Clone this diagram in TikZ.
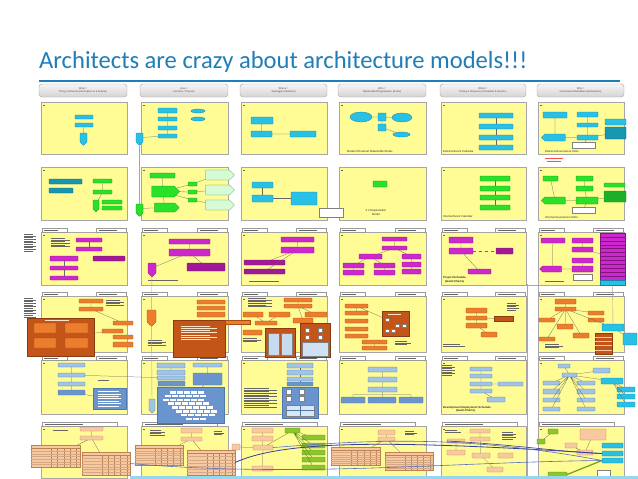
\documentclass[tikz,border=0pt]{standalone}
\usepackage{fontspec}
\newfontfamily\titlefont{Carlito}
\newfontfamily\smallfont{Liberation Sans}
\usetikzlibrary{shapes.geometric,shapes.symbols}
\definecolor{ttl}{RGB}{31,125,183}
\definecolor{pnl}{RGB}{255,252,150}
\definecolor{ccy}{RGB}{40,192,228}
\definecolor{ccyd}{RGB}{20,130,170}
\definecolor{ctc}{RGB}{25,150,175}
\definecolor{cgr}{RGB}{40,225,40}
\definecolor{cgrd}{RGB}{20,140,20}
\definecolor{clg}{RGB}{215,250,215}
\definecolor{cdg}{RGB}{30,175,40}
\definecolor{cmg}{RGB}{205,40,205}
\definecolor{cmgd}{RGB}{130,20,130}
\definecolor{cdm}{RGB}{160,25,150}
\definecolor{cor}{RGB}{235,125,45}
\definecolor{cord}{RGB}{170,75,20}
\definecolor{cbr}{RGB}{195,85,25}
\definecolor{clb}{RGB}{160,195,230}
\definecolor{clbd}{RGB}{80,120,170}
\definecolor{csb}{RGB}{105,148,205}
\definecolor{cpc}{RGB}{248,200,160}
\definecolor{cpcd}{RGB}{190,130,80}
\definecolor{col}{RGB}{140,198,45}
\definecolor{cold}{RGB}{90,130,20}
\definecolor{cnv}{RGB}{55,60,150}
\definecolor{cbl}{RGB}{90,110,190}
\definecolor{cbot}{RGB}{150,215,240}
\newcommand{\bxn}[6]{\node[#2,minimum width={((#5)-(#3))*1pt},minimum height={((#6)-(#4))*1pt}] (#1) at ({((#3)+(#5))/2},{((#4)+(#6))/2}) {};}
\newcommand{\txl}[4]{\foreach \k in {1,...,#4}{\draw[black!60,line width=0.3pt] (#1,{(#2)+(\k-1)*1.7}) -- ({(#1)+(#3)*(1-0.25*mod(\k,2))},{(#2)+(\k-1)*1.7});}}
\newcommand{\wtl}[4]{\foreach \k in {1,...,#4}{\draw[white!80!orange,line width=0.3pt] (#1,{(#2)+(\k-1)*2.2}) -- ({(#1)+(#3)*(1-0.2*mod(\k,2))},{(#2)+(\k-1)*2.2});}}
\newcommand{\tbl}[5]{\bxn{#1}{bxpc,rounded corners=0pt}{#2}{#3}{#4}{#5}
\draw[cpcd,line width=0.25pt] (#2,{(#3)+3.5}) -- (#4,{(#3)+3.5});
\foreach \k in {1,...,5}{\draw[cpcd,line width=0.2pt] ({(#2)+((#4)-(#2))*(0.28+0.13*\k)},{(#3)+3.5}) -- ({(#2)+((#4)-(#2))*(0.28+0.13*\k)},#5);}
\foreach \k in {1,...,6}{\draw[cpcd!70,line width=0.2pt] (#2,{(#3)+3.5+((#5)-(#3)-3.5)*\k/7}) -- (#4,{(#3)+3.5+((#5)-(#3)-3.5)*\k/7});}}
\newcommand{\hd}[5]{\bxn{#1}{hdr}{#2}{84}{#3}{97}\node[font=\smallfont\fontsize{2.6}{3.2}\selectfont,align=center,inner sep=0pt,text=black!70] (#1t) at ({((#2)+(#3))/2},90.5) {#4\\#5};}
\newcommand{\lbl}[5][west]{\node[anchor=#1,inner sep=0pt,font=\smallfont\fontsize{2.8}{3.3}\selectfont,text=black!85,align=center] (#2) at (#3,#4) {#5};}
\begin{document}
\begin{tikzpicture}[x=1pt,y=-1pt,
 bx/.style={draw,inner sep=0pt,outer sep=0pt,line width=0.3pt,rounded corners=0.5pt},
 bxcy/.style={bx,fill=ccy,draw=ccyd},
 bxtc/.style={bx,fill=ctc,draw=ccyd!70!black},
 bxgr/.style={bx,fill=cgr,draw=cgrd},
 bxdg/.style={bx,fill=cdg,draw=cgrd},
 bxlg/.style={bx,fill=clg,draw=cgrd!80},
 bxmg/.style={bx,fill=cmg,draw=cmgd},
 bxdm/.style={bx,fill=cdm,draw=cmgd},
 bxor/.style={bx,fill=cor,draw=cord},
 bxbr/.style={bx,fill=cbr,draw=cord!80!black,rounded corners=0pt},
 bxlb/.style={bx,fill=clb,draw=clbd},
 bxsb/.style={bx,fill=csb,draw=clbd},
 bxpc/.style={bx,fill=cpc,draw=cpcd},
 bxol/.style={bx,fill=col,draw=cold},
 bxwh/.style={bx,fill=white,draw=black!50,rounded corners=0pt},
 sgs/.style={signal,signal to=south},
 sge/.style={signal,signal to=east},
 sgw/.style={signal,signal to=west},
 pnlst/.style={draw=black!35,fill=pnl,line width=0.4pt,inner sep=0pt,outer sep=0pt},
 hdr/.style={bx,rounded corners=3pt,draw=black!35,top color=black!4,bottom color=black!17,line width=0.4pt},
 tabst/.style={draw=black!40,fill=white,line width=0.3pt,inner sep=0pt,outer sep=0pt},
 cn/.style={draw=black!60,line width=0.25pt},
 gl/.style={draw=black!35,line width=0.4pt}]
\useasboundingbox (0,0) rectangle (638,479);
\fill[white] (0,0) rectangle (638,479);
% title
\node[anchor=base west,inner sep=0pt,text=ttl,font=\titlefont\fontsize{24.6}{28}\selectfont] (title) at (39,68) {Architects are crazy about architecture models!!!};
\coordinate (L1) at (39,81); \coordinate (L2) at (620,81);
\draw[ttl,line width=1.6pt] (L1) -- (L2);
% headers
\hd{hA}{39}{127}{What =}{Thing of Interest (Information is a Subset)}
\hd{hB}{140}{228}{How =}{Function / Process}
\hd{hC}{240}{327}{Where =}{Topologies (Network)}
\hd{hD}{338}{426}{Who =}{Stakeholder/Organization (Roles)}
\hd{hE}{440}{526}{When =}{Timing \& Sequence (Schedule \& Events )}
\hd{hF}{537}{624}{Why =}{Governance/Mandates (Motivations)}
% panels
\foreach \xa/\xb [count=\ci] in {41/127,141/228,241/327,339/426,441/526,538/624}{
 \foreach \ya/\yb [count=\ri] in {102/154,167/220,232/285,296/352,360/414,426/478}{
  \bxn{p\ri\ci}{pnlst}{\xa}{\ya}{\xb}{\yb}
  \txl{\xa+2}{\ya+3}{3}{1}
  \ifnum\ri>2
   \ifnum\ri=6
    \bxn{tl\ri\ci}{tabst}{\xa+1}{\ya-3.5}{\xa+76}{\ya+0.5}
    \txl{\xa+4}{\ya-1.5}{50}{1}
   \else
    \bxn{tl\ri\ci}{tabst}{\xa+1}{\ya-3.5}{\xa+26}{\ya+0.5}
    \bxn{tr\ri\ci}{tabst}{\xb-31}{\ya-3.5}{\xb-1}{\ya+0.5}
    \txl{\xa+3}{\ya-1.5}{18}{1}
    \txl{\xb-28}{\ya-1.5}{24}{1}
   \fi
  \fi
 }}
% gray long connectors between panels
\coordinate (v1a) at (527,284); \coordinate (v1b) at (527,479);
\coordinate (v2a) at (538,285); \coordinate (v2b) at (538,479);
\coordinate (h1a) at (527,285); \coordinate (h1b) at (600,285);
\draw[gl] (v1a) -- (v1b) (v2a) -- (v2b) (h1a) -- (h1b);
% ---------- Row 1 ----------
\bxn{a1}{bxcy}{75}{115}{93}{119}
\bxn{a2}{bxcy}{75}{123}{93}{127}
\bxn{a3}{bxcy,sgs}{80}{133}{87}{142}
\draw[cn] (a2) -- (a3);
\bxn{b1}{bxcy}{158}{108}{177}{113}
\bxn{b2}{bxcy}{158}{117}{177}{121}
\bxn{b3}{bxcy}{158}{126}{177}{130}
\bxn{b4}{bxcy}{158}{134}{177}{138}
\bxn{b5}{bxcy,ellipse}{191}{109}{205}{113}
\bxn{b6}{bxcy,ellipse}{191}{117}{205}{121}
\bxn{b7}{bxcy,sgs}{136}{133}{143}{142}
\draw[cn] (b1)--(b2) (b2)--(b3) (b3)--(b4) (b7)--(b4);
\bxn{c1}{bxcy}{251}{117}{273}{124}
\bxn{c2}{bxcy}{251}{131}{272}{137}
\bxn{c3}{bxcy}{290}{131}{316}{137}
\draw[cn] (c1)--(c2) (c2)--(c3);
\bxn{d1}{bxcy,ellipse}{350}{112}{372}{122}
\bxn{d2}{bxcy}{378}{113}{386}{121}
\bxn{d3}{bxcy}{378}{124}{386}{131}
\bxn{d4}{bxcy,ellipse}{392}{113}{412}{122}
\bxn{d5}{bxcy,ellipse}{393}{132}{410}{137}
\draw[cn] (d1)--(d2) (d2)--(d4) (d2)--(d3) (d3)--(d5);
\lbl{d6}{347}{151}{Model of External Stakeholder Roles}
\bxn{f1}{bxcy}{479}{113}{513}{118}
\bxn{f2}{bxcy}{479}{124}{513}{129}
\bxn{f3}{bxcy}{479}{135}{513}{140}
\bxn{f4}{bxcy}{479}{145}{513}{150}
\draw[cn] (f1)--(f2) (f2)--(f3) (f3)--(f4);
\lbl{f5}{443}{151}{External Event Calendar}
\bxn{g1}{bxcy}{543}{112}{567}{118}
\bxn{g2}{bxcy}{577}{112}{598}{117}
\bxn{g3}{bxcy}{577}{123}{598}{127}
\bxn{g4}{bxcy,sgw}{543}{134}{567}{141}
\bxn{g5}{bxcy}{577}{135}{598}{140}
\bxn{g6}{bxcy}{605}{119}{626}{125}
\bxn{g7}{bxtc}{605}{127}{626}{139}
\bxn{g8}{bxwh}{572}{142}{595}{148}
\draw[cn] (g1)--(g4) (g4)--(g5) (g2)--(g3) (g3)--(g5) (g5)--(g7) (g5)--(g8);
\lbl{g9}{545}{151}{External Governance Hints}
\draw[red!70,line width=0.35pt] (545,158)--(563,158) (547,161.5)--(561,161.5);
% ---------- Row 2 ----------
\bxn{h1}{bxtc}{49}{179}{82}{184}
\bxn{h2}{bxtc}{49}{188}{73}{193}
\bxn{h3}{bxgr}{93}{179}{112}{183}
\bxn{h4}{bxgr}{93}{190}{112}{194}
\bxn{h5}{bxgr,sgs}{93}{200}{99}{209}
\bxn{h6}{bxgr}{102}{200}{122}{204}
\bxn{h7}{bxgr}{102}{206}{122}{210}
\draw[cn] (h3)--(h4) (h4)--(h5);
\bxn{i1}{bxgr}{150}{173}{175}{178}
\bxn{i2}{bxgr,sge}{149}{186}{177}{197}
\bxn{i3}{bxgr,sge}{152}{203}{177}{212}
\bxn{i4}{bxgr,sgs}{136}{204}{143}{213}
\bxn{i5}{bxgr}{188}{182}{197}{186}
\bxn{i6}{bxgr}{188}{190}{197}{194}
\bxn{i7}{bxgr}{188}{198}{197}{202}
\bxn{i8}{bxlg,sge}{203}{170}{232}{180}
\bxn{i9}{bxlg,sge}{203}{185}{232}{195}
\bxn{i10}{bxlg,sge}{203}{200}{232}{210}
\draw[cn] (i1)--(i2) (i2)--(i3) (i4)--(i3) (i2)--(i5) (i2)--(i6) (i2)--(i7) (i5)--(i8) (i6)--(i9) (i7)--(i10);
\draw[gl] (b7)--(i4);
\bxn{j1}{bxcy}{252}{182}{273}{188}
\bxn{j2}{bxcy}{252}{195}{273}{202}
\bxn{j3}{bxcy}{291}{192}{317}{205}
\bxn{j4}{bxwh}{319}{208}{343}{217}
\draw[cn] (j1)--(j2) (j2)--(j3);
\bxn{k1}{bxgr}{373}{181}{387}{187}
\lbl[center]{k2}{376}{212.5}{4.4 Organization\\Model}
\bxn{l1}{bxgr}{480}{176}{510}{181}
\bxn{l2}{bxgr}{480}{186}{510}{191}
\bxn{l3}{bxgr}{480}{195}{510}{200}
\bxn{l4}{bxgr}{480}{205}{510}{210}
\draw[cn] (l1)--(l2) (l2)--(l3) (l3)--(l4);
\lbl{l5}{443}{216}{Internal Event Calendar}
\bxn{m1}{bxgr}{543}{176}{558}{181}
\bxn{m2}{bxgr}{576}{176}{593}{181}
\bxn{m3}{bxgr}{576}{186}{593}{191}
\bxn{m4}{bxgr,sgw}{543}{197}{567}{204}
\bxn{m5}{bxgr}{576}{197}{598}{204}
\bxn{m6}{bxgr}{604}{183}{625}{187}
\bxn{m7}{bxdg}{604}{191}{626}{202}
\bxn{m8}{bxwh}{572}{207}{595}{213}
\draw[cn] (m1)--(m4) (m4)--(m5) (m2)--(m3) (m3)--(m5) (m5)--(m7) (m5)--(m8);
\lbl{m9}{545}{217}{Internal Governance Hints}
% ---------- Row 3 ----------
\txl{24}{234}{12}{11}
\txl{51}{238}{19}{6}
\bxn{n1}{bxmg}{76}{238}{102}{242}
\bxn{n2}{bxmg}{76}{247}{102}{251}
\bxn{n3}{bxmg}{50}{256}{78}{261}
\bxn{n4}{bxmg}{50}{266}{78}{270}
\bxn{n5}{bxmg}{50}{276}{78}{280}
\bxn{n6}{bxdm}{93}{256}{125}{261}
\draw[cn] (n1)--(n2) (n3)--(n4) (n4)--(n5);
\bxn{o1}{bxmg}{169}{239}{210}{244}
\bxn{o2}{bxmg}{169}{249}{210}{256}
\bxn{o3}{bxdm}{187}{263}{225}{271}
\bxn{o4}{bxmg,sgs}{148}{263}{156}{273}
\draw[cn] (o1)--(o2) (o2)--(o4) (o2)--(o3);
\txl{148}{280}{40}{1}
\bxn{q1}{bxmg}{281}{237}{314}{242}
\bxn{q2}{bxmg}{281}{247}{314}{253}
\bxn{q3}{bxdm}{244}{260}{285}{265}
\bxn{q4}{bxdm}{244}{269}{285}{274}
\draw[cn] (q1)--(q2) (q2)--(q3) (q2)--(q4);
\txl{249}{281}{40}{1}
\bxn{r1}{bxmg}{382}{237}{407}{241}
\bxn{r2}{bxmg}{382}{246}{407}{250}
\bxn{r3}{bxmg}{359}{254}{382}{259}
\bxn{r4}{bxmg}{402}{254}{421}{259}
\bxn{r5}{bxmg}{343}{263}{364}{268}
\bxn{r6}{bxmg}{343}{270}{364}{275}
\bxn{r7}{bxmg}{374}{263}{395}{268}
\bxn{r8}{bxmg}{374}{270}{395}{275}
\bxn{r9}{bxmg}{402}{262}{421}{267}
\bxn{r10}{bxmg}{402}{269}{421}{274}
\draw[cn] (r1)--(r2) (r2)--(r3) (r2)--(r4) (r3)--(r5) (r3)--(r7) (r5)--(r6) (r7)--(r8) (r4)--(r9) (r9)--(r10);
\bxn{t1}{bxmg}{449}{237}{473}{243}
\bxn{t2}{bxmg}{449}{248}{473}{254}
\bxn{t3}{bxdm}{496}{248}{513}{254}
\bxn{t4}{bxmg}{468}{269}{491}{274}
\draw[cn] (t1)--(t2) (t2)--(t4);
\draw[cn,dashed] (t2)--(t3);
\lbl[west]{t5}{443}{278}{\bfseries Project Schedule}
\lbl[west]{t6}{445}{281.5}{\bfseries (Gantt Charts)}
\bxn{u1}{bxmg}{541}{238}{565}{243}
\bxn{u2}{bxmg,sgw}{541}{266}{563}{272}
\bxn{u3}{bxmg}{572}{238}{593}{243}
\bxn{u4}{bxmg}{572}{247}{593}{252}
\bxn{u5}{bxmg}{572}{258}{593}{263}
\bxn{u6}{bxmg}{572}{266}{593}{272}
\bxn{u7}{bxmg,rounded corners=0pt}{600}{233}{625}{280}
\foreach \k in {1,...,11}{\draw[cmgd,line width=0.3pt] (600,{233+\k*3.9}) -- (625,{233+\k*3.9});}
\bxn{u8}{bxcy,rounded corners=0pt}{600}{280}{625}{285}
\bxn{u9}{bxwh}{573}{274}{592}{280}
\draw[cn] (u1)--(u2) (u2)--(u6) (u3)--(u4) (u5)--(u6) (u4)--(u7);
\txl{545}{281}{25}{1}
% ---------- Row 4 ----------
\txl{24}{298}{12}{12}
\bxn{v1}{bxor}{79}{299}{103}{303}
\bxn{v2}{bxor}{79}{307}{103}{311}
\txl{106}{300}{18}{4}
\bxn{v3}{bxbr}{27}{318}{94}{356}
\wtl{45}{320}{30}{1}
\bxn{v4}{bxor}{34}{323}{56}{333}
\bxn{v5}{bxor}{65}{323}{88}{333}
\bxn{v6}{bxor}{34}{338}{56}{348}
\bxn{v7}{bxor}{65}{338}{88}{348}
\bxn{v8}{bxor}{113}{321}{133}{325}
\bxn{v9}{bxor}{102}{329}{123}{333}
\bxn{v10}{bxor}{113}{335}{133}{339}
\bxn{v11}{bxor}{113}{342}{133}{347}
\draw[cn] (v1)--(v2) (v2)--(v8) (v9)--(v3);
\bxn{w1}{bxor,sgs}{147}{310}{156}{322}
\bxn{w2}{bxor}{197}{300}{225}{304}
\bxn{w3}{bxor}{197}{306}{225}{310}
\bxn{w4}{bxor}{197}{312}{225}{317}
\bxn{w5}{bxbr}{173}{320}{225}{357}
\wtl{181}{326}{36}{7}
\bxn{w6}{bxor,rounded corners=0pt}{225}{320}{250}{324}
\txl{148}{340}{18}{4}
\txl{248}{298}{24}{6}
\bxn{x1}{bxor}{284}{298}{312}{302}
\bxn{x2}{bxor}{284}{304}{312}{308}
\bxn{x3}{bxor}{243}{312}{263}{317}
\bxn{x4}{bxor}{269}{312}{290}{317}
\bxn{x5}{bxor}{305}{312}{327}{317}
\bxn{x6}{bxor}{255}{321}{277}{325}
\bxn{x7}{bxor}{293}{318}{313}{323}
\bxn{x8}{bxor}{243}{330}{262}{335}
\bxn{x9}{bxbr}{265}{328}{295}{357}
\bxn{x9a}{bxwh,fill=clb!60}{268}{333}{279}{355}
\bxn{x9b}{bxwh,fill=clb!60}{281}{333}{292}{355}
\bxn{x10}{bxbr}{300}{323}{330}{357}
\bxn{x10a}{bxwh}{305}{328}{309}{332}
\bxn{x10b}{bxwh}{318}{328}{322}{332}
\bxn{x10c}{bxwh}{305}{335}{309}{339}
\bxn{x10d}{bxwh}{318}{335}{322}{339}
\bxn{x10e}{bxwh,fill=clb!50}{302}{342}{328}{356}
\txl{243}{338}{18}{3}
\draw[cn] (x1)--(x2) (x2)--(x5) (x2)--(x7) (x4)--(x6) (x3)--(x6);
\bxn{y1}{bxor}{345}{304}{368}{308}
\bxn{y2}{bxor}{345}{311}{368}{315}
\bxn{y3}{bxor}{345}{319}{368}{323}
\bxn{y4}{bxor}{345}{327}{368}{331}
\bxn{y5}{bxor}{345}{334}{368}{338}
\bxn{y6}{bxor}{362}{340}{387}{344}
\bxn{y7}{bxor}{362}{346}{387}{350}
\bxn{y8}{bxbr}{382}{311}{409}{336}
\bxn{y8a}{bxwh}{385}{318}{389}{321}
\bxn{y8b}{bxwh}{395}{324}{399}{327}
\bxn{y8c}{bxwh}{402}{324}{406}{327}
\bxn{y8d}{bxwh}{385}{329}{389}{332}
\bxn{y8e}{bxwh}{391}{329}{395}{332}
\wtl{388}{314}{16}{1}
\txl{395}{341}{16}{3}
\draw[cn] (y1)--(y8) (y1)--(y2) (y6)--(y7);
\bxn{z1}{bxor}{466}{308}{487}{313}
\bxn{z2}{bxor}{466}{316}{487}{320}
\bxn{z3}{bxor}{466}{323}{487}{328}
\bxn{z4}{bxor}{481}{332}{497}{337}
\bxn{z5}{bxbr}{494}{316}{513}{321}
\txl{507}{303}{12}{5}
\draw[cn] (z1)--(z2) (z2)--(z3) (z3)--(z4) (z2)--(z5);
\txl{443}{344}{22}{2}
\bxn{aa1}{bxor}{555}{299}{576}{304}
\bxn{aa2}{bxor}{555}{307}{576}{311}
\bxn{aa3}{bxor}{539}{318}{555}{322}
\bxn{aa4}{bxor}{557}{324}{573}{329}
\bxn{aa5}{bxor}{539}{337}{555}{341}
\bxn{aa6}{bxor}{573}{333}{589}{338}
\bxn{aa7}{bxor}{588}{311}{604}{315}
\bxn{aa8}{bxor}{588}{318}{604}{322}
\bxn{aa9}{bxcy}{602}{324}{624}{331}
\bxn{aa10}{bxcy}{623}{333}{637}{345}
\bxn{aa11}{bxbr}{595}{333}{612}{354}
\foreach \k in {1,...,4}{\draw[cpc,line width=0.3pt] (595,{333+\k*4.2}) -- (612,{333+\k*4.2});}
\draw[cn] (aa1)--(aa2) (aa2)--(aa3) (aa2)--(aa4) (aa2)--(aa5) (aa2)--(aa6) (aa2)--(aa7) (aa2)--(aa9) (aa9)--(aa10);
\draw[gl] (u8)--(aa9);
\txl{545}{344}{18}{3}
% ---------- Row 5 ----------
\bxn{ab1}{bxlb}{58}{363}{85}{367}
\bxn{ab2}{bxlb}{58}{373}{85}{377}
\bxn{ab3}{bxlb}{58}{382}{85}{386}
\bxn{ab4}{bxsb}{58}{390}{85}{395}
\bxn{ab5}{bxsb,rounded corners=0pt}{93}{388}{126}{409}
\foreach \k in {1,...,7}{\draw[white,line width=0.3pt] (98,{389+\k*2.4}) -- ({121-2*mod(\k,2)},{389+\k*2.4});}
\txl{98}{380}{14}{1}
\draw[cn] (ab1)--(ab2) (ab2)--(ab3) (ab3)--(ab4) (ab4)--(ab5);
\bxn{ac1}{bxlb}{157}{363}{185}{368}
\bxn{ac2}{bxlb}{157}{370}{185}{375}
\bxn{ac3}{bxlb}{157}{376}{185}{380}
\bxn{ac4}{bxsb}{158}{381}{185}{386}
\bxn{ac5}{bxlb}{193}{363}{222}{367}
\bxn{ac6}{bxsb}{193}{373}{222}{385}
\bxn{ac7}{bxsb,rounded corners=0pt}{157}{387}{224}{423}
\foreach \r/\s/\e in {0/170/200,1/165/205,2/163/212,3/168/218,4/172/220,5/176/214,6/181/210,7/186/205}{
 \foreach \c in {0,...,5}{\pgfmathsetmacro\xc{\s+\c*7}\ifdim\xc pt<\e pt \fill[white] (\xc,{391+\r*3.8}) rectangle ({\xc+6},{391+\r*3.8+2.6});\fi}}
\bxn{ac8}{bxlb,sgs}{149}{399}{155}{410}
\draw[cn] (ab2)--(ac3) (ac1)--(ac2) (ac5)--(ac6) (ac6)--(ac7);
\draw[gl] (o4)--(w1) (w1)--(ac8);
\bxn{ad1}{bxlb}{287}{363}{313}{368}
\bxn{ad2}{bxlb}{287}{370}{313}{375}
\bxn{ad3}{bxlb}{287}{377}{313}{381}
\bxn{ad4}{bxsb}{287}{382}{313}{386}
\bxn{ad5}{bxsb,rounded corners=0pt}{282}{387}{318}{418}
\bxn{ad5a}{bxwh}{286}{389}{291}{394}
\bxn{ad5b}{bxwh}{299}{389}{304}{394}
\bxn{ad5c}{bxwh}{286}{396}{291}{401}
\bxn{ad5d}{bxwh}{299}{396}{304}{401}
\bxn{ad5e}{bxwh,fill=clb!40}{286}{405}{314}{416}
\draw[clbd,line width=0.2pt] (300,405)--(300,416) (286,410.5)--(314,410.5);
\txl{244}{388}{33}{12}
\draw[cn] (ad1)--(ad2) (ad2)--(ad3) (ad3)--(ad4);
\bxn{ae1}{bxlb}{368}{367}{397}{372}
\bxn{ae2}{bxlb}{368}{377}{397}{382}
\bxn{ae3}{bxlb}{368}{387}{397}{392}
\bxn{ae4}{bxsb}{341}{397}{365}{403}
\bxn{ae5}{bxsb}{368}{397}{396}{403}
\bxn{ae6}{bxsb}{399}{397}{423}{403}
\coordinate (ae7) at (382.5,394.5);
\draw[cn] (ae1)--(ae2) (ae2)--(ae3) (ae3)--(ae5) (ae7) -| (ae4) (ae7) -| (ae6);
\txl{442}{365}{13}{7}
\bxn{af1}{bxlb}{470}{367}{492}{371}
\bxn{af2}{bxlb}{470}{374}{492}{378}
\bxn{af3}{bxlb}{470}{382}{492}{386}
\bxn{af4}{bxlb}{470}{389}{492}{393}
\bxn{af5}{bxlb}{498}{382}{523}{386}
\bxn{af6}{bxlb}{487}{397}{505}{402}
\draw[cn] (af1)--(af2) (af2)--(af3) (af3)--(af4) (af3)--(af5) (af4)--(af6);
\lbl[west]{af7}{443}{407.5}{\bfseries Development Deployment Schedule}
\lbl[west]{af8}{456}{411}{\bfseries (Gantt Charts)}
\bxn{ag1}{bxlb}{558}{364}{570}{368}
\bxn{ag2}{bxlb}{562}{373}{577}{377}
\bxn{ag3}{bxlb}{543}{381}{560}{385}
\bxn{ag4}{bxlb}{543}{389}{560}{394}
\bxn{ag5}{bxlb}{543}{398}{560}{402}
\bxn{ag6}{bxlb}{543}{407}{560}{411}
\bxn{ag7}{bxlb}{577}{381}{595}{385}
\bxn{ag8}{bxlb}{577}{389}{595}{394}
\bxn{ag9}{bxlb}{577}{398}{595}{402}
\bxn{ag10}{bxlb}{577}{407}{595}{411}
\bxn{ag11}{bxlb}{593}{368}{610}{373}
\bxn{ag12}{bxcy}{601}{378}{623}{384}
\bxn{ag13}{bxcy}{617}{387}{635}{392}
\bxn{ag14}{bxcy}{617}{394}{635}{399}
\bxn{ag15}{bxcy}{617}{402}{635}{407}
\draw[cn] (ag1)--(ag2) (ag2)--(ag3) (ag2)--(ag4) (ag2)--(ag5) (ag2)--(ag6) (ag2)--(ag7) (ag2)--(ag8) (ag2)--(ag9) (ag2)--(ag10) (ag2)--(ag11) (ag2)--(ag12) (ag12)--(ag13) (ag12)--(ag14) (ag12)--(ag15);
% ---------- Row 6 ----------
\txl{53}{430}{20}{1}
\bxn{ah1}{bxpc}{80}{427}{103}{431}
\bxn{ah2}{bxpc}{80}{436}{103}{440}
\tbl{ah3}{31}{445}{80}{467}
\tbl{ah4}{82}{452}{130}{475}
\draw[cn] (ah1)--(ah2) (ah2)--(ah3) (ah2)--(ah4);
\txl{150}{430}{15}{4}
\txl{214}{431}{10}{3}
\bxn{ai1}{bxpc}{181}{428}{202}{433}
\bxn{ai2}{bxpc}{181}{437}{202}{441}
\tbl{ai3}{135}{445}{183}{465}
\tbl{ai4}{187}{450}{235}{475}
\bxn{ai5}{bxpc}{232}{444}{240}{450}
\draw[cn] (ai1)--(ai2) (ai2)--(ai3) (ai2)--(ai4);
\bxn{aj1}{bxpc}{252}{428}{273}{433}
\bxn{aj2}{bxpc}{252}{436}{273}{441}
\bxn{aj3}{bxpc}{253}{445}{273}{450}
\bxn{aj5}{bxol}{285}{428}{300}{433}
\bxn{aj6}{bxol}{302}{435}{325}{440}
\bxn{aj7}{bxol}{302}{443}{325}{448}
\bxn{aj8}{bxol}{302}{450}{325}{455}
\bxn{aj9}{bxol}{302}{457}{325}{462}
\bxn{aj10}{bxol}{302}{465}{325}{470}
\bxn{aj11}{bxpc}{252}{466}{273}{471}
\draw[cn] (aj1)--(aj2) (aj2)--(aj3) (aj3)--(aj11) (ai5)--(aj3);
\draw[cold,line width=0.3pt] (aj5)--(aj6) (aj5)--(aj7) (aj5)--(aj8) (aj5)--(aj9) (aj5)--(aj10) (aj5)--(aj3);
\bxn{ak1}{bxpc}{378}{430}{395}{435}
\bxn{ak2}{bxpc}{378}{437}{395}{441}
\txl{405}{431}{12}{3}
\tbl{ak3}{331}{447}{380}{465}
\tbl{ak4}{385}{452}{433}{470}
\draw[cn] (ak1)--(ak2) (ak2)--(ak3) (ak2)--(ak4);
\txl{445}{430}{16}{2}
\bxn{al1}{bxpc}{470}{429}{490}{433}
\bxn{al2}{bxpc}{470}{437}{490}{441}
\bxn{al3}{bxpc}{447}{439}{465}{443}
\bxn{al4}{bxpc}{447}{450}{465}{455}
\bxn{al5}{bxpc}{472}{453}{490}{458}
\bxn{al6}{bxpc}{498}{453}{513}{458}
\bxn{al7}{bxpc}{487}{467}{503}{472}
\txl{502}{432}{14}{5}
\draw[cn] (al1)--(al2) (al2)--(al5) (al5)--(al7) (al3)--(al4);
\bxn{am1}{bxol}{548}{429}{558}{434}
\bxn{am2}{bxol}{537}{439}{545}{444}
\bxn{am3}{bxpc}{580}{429}{606}{440}
\bxn{am4}{bxpc}{565}{443}{577}{448}
\bxn{am5}{bxpc}{577}{450}{593}{455}
\bxn{am6}{bxcy}{602}{443}{623}{448}
\bxn{am7}{bxcy}{602}{451}{623}{456}
\bxn{am8}{bxcy}{602}{458}{623}{463}
\bxn{am9}{bxol}{548}{472}{567}{477}
\bxn{am10}{bxwh}{597}{470}{610}{477}
\draw[cn] (am1)--(am2) (am3)--(am5) (am4)--(am5);
% long blue connectors across row 6
\draw[cnv,line width=0.8pt] (ai4.east) .. controls (285,440) and (390,440) .. (am7.west);
\draw[cbl,line width=0.6pt] (aj3.east) .. controls (350,442) and (450,432) .. (am8.west);
\draw[cbl,line width=0.6pt] (ah4.east) .. controls (300,478) and (450,462) .. (am8.west);
\draw[cnv,line width=0.6pt] (al3.west) .. controls (520,445) and (560,452) .. (am7.west);
\draw[col!80!black,line width=1.2pt] (am9.east) -- (am8.west);
\coordinate (bb1) at (130,476); \coordinate (bb2) at (638,479);
\fill[cbot] (bb1) rectangle (bb2);
\end{tikzpicture}
\end{document}
